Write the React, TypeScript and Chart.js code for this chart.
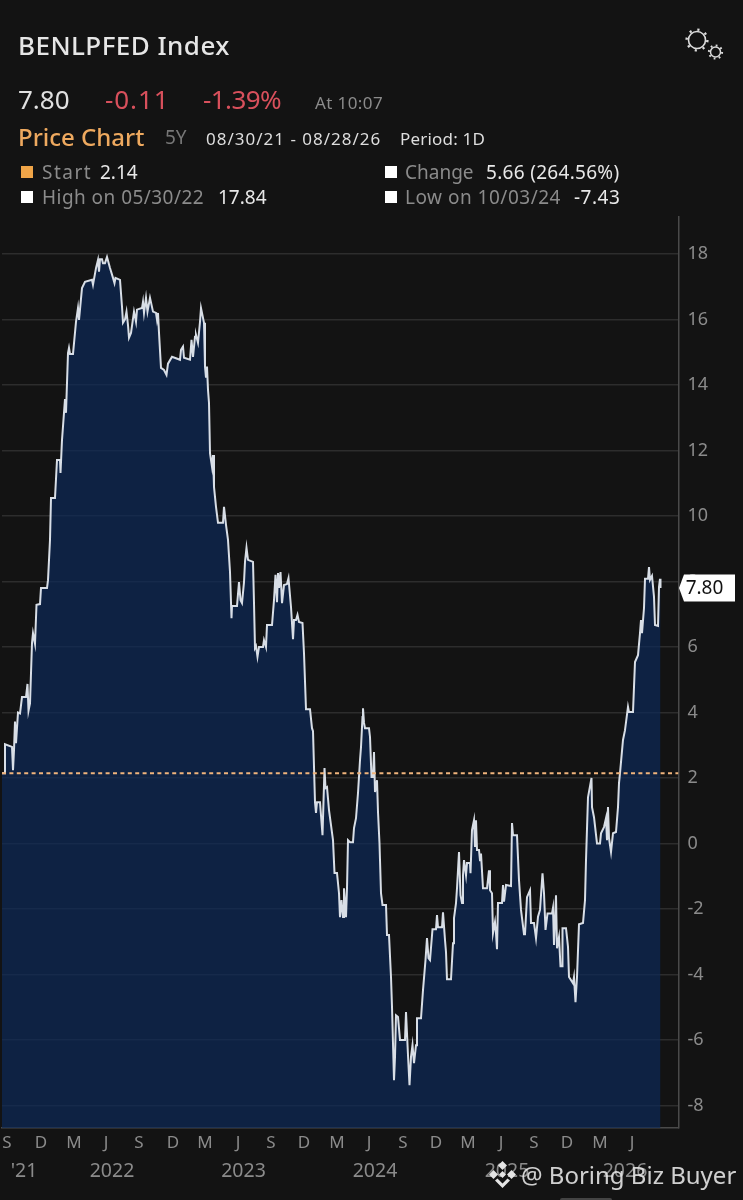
import React, { useEffect, useRef } from "react";
import { Chart, registerables } from "chart.js";

Chart.register(...registerables);

// [trading session since 08/30/21, close]
const closes2021: [number, number][] = [
  [-6, 2.14], [0, 2.14], [0, 3.03], [14, 2.95], [16, 2.24], [18, 2.85], [20, 3.72], [22, 3.06], [26, 4.0], [30, 3.97],
  [34, 4.47], [42, 4.47], [45, 4.87], [47, 4.05], [50, 4.28], [54, 6.12], [56, 6.42], [60, 6.1], [63, 7.29], [70, 7.31],
  [72, 7.8], [84, 7.8], [86, 8.04],
];
const closes2022: [number, number][] = [
  [90, 9.27], [92, 10.55], [100, 10.55], [104, 11.71], [110, 11.71], [111, 11.31], [114, 12.32], [120, 13.57], [122, 13.15],
  [126, 14.97], [128, 15.13], [130, 14.95], [136, 14.95], [142, 15.93], [146, 16.35], [148, 15.99], [154, 16.96], [160, 17.15],
  [174, 17.21], [176, 17.06], [182, 17.57], [186, 17.82], [188, 17.46], [190, 17.84], [194, 17.84], [196, 17.72], [200, 17.72],
  [204, 17.91], [210, 17.57], [216, 17.27], [219, 17.11], [221, 17.27], [230, 17.21], [234, 16.39], [236, 15.9], [240, 16.0],
  [243, 16.24], [246, 15.83], [248, 15.44], [252, 15.59], [258, 16.24], [262, 15.93], [264, 16.3], [274, 16.35], [276, 16.54],
  [278, 16.2], [282, 16.66], [285, 16.24], [290, 16.66], [296, 16.24], [302, 16.2], [304, 15.99], [306, 16.2], [308, 15.59],
  [312, 14.52], [318, 14.46], [323, 14.31], [326, 14.65], [334, 14.86], [350, 14.77],
];
const closes2023: [number, number][] = [
  [352, 15.07], [356, 15.17], [358, 14.83], [370, 14.77], [373, 15.38], [376, 14.86], [380, 15.47], [382, 15.53], [386, 15.29],
  [390, 15.93], [392, 16.35], [398, 15.9], [400, 14.56], [402, 14.22], [404, 14.56], [406, 13.85], [408, 13.45], [410, 11.92],
  [414, 11.5], [416, 11.86], [418, 10.89], [422, 10.28], [426, 9.79], [436, 9.79], [438, 10.28], [442, 9.73], [446, 9.27],
  [450, 8.29], [453, 6.88], [454, 7.25], [464, 7.25], [468, 7.98], [471, 7.43], [474, 7.34], [478, 7.98], [480, 8.6], [483, 9.03],
  [486, 8.66], [496, 8.6], [498, 7.34], [500, 5.97], [502, 6.03], [505, 5.7], [508, 6.0], [516, 6.0], [518, 6.21], [522, 6.0],
  [524, 6.67], [534, 6.67], [538, 7.43], [541, 8.2], [544, 7.37], [546, 8.26], [548, 7.8], [551, 8.29], [554, 7.34], [558, 7.89],
  [564, 7.92], [567, 8.1], [572, 7.22], [576, 6.24], [578, 6.82], [582, 6.82], [585, 6.98], [588, 6.76], [595, 6.73], [598, 5.81],
  [602, 4.1], [610, 4.1],
];
const closes2024: [number, number][] = [
  [614, 3.52], [616, 3.43], [620, 1.26], [622, 0.93], [624, 1.26], [630, 1.26], [635, 0.25], [639, 2.3], [641, 1.69], [644, 1.72],
  [648, 1.02], [656, 0.1], [659, -0.9], [664, -0.9], [668, -1.52], [670, -2.25], [673, -1.73], [676, -2.25], [678, -1.37], [682, -2.25],
  [684, -1.37], [686, 0.1], [690, 0.04], [696, 0.04], [698, 0.47], [702, 0.77], [706, 1.54], [710, 2.54], [712, 2.94], [715, 3.86],
  [716, 4.13], [718, 3.68], [720, 3.52], [728, 3.52], [730, 3.25], [733, 2.03], [736, 2.03], [738, 2.79], [740, 1.57], [744, 1.93],
  [746, 0.96], [749, 0], [752, -1.52], [755, -1.88], [762, -1.88], [764, -2.8], [768, -2.8], [772, -4.08], [774, -4.99], [778, -7.23],
  [780, -6.52], [782, -5.25], [786, -5.3], [790, -6], [800, -6], [802, -5.15], [806, -6.47], [809, -7.38], [812, -6.52], [815, -6.16],
  [818, -6.71], [822, -6.16], [824, -5.34], [832, -5.34], [836, -4.48], [841, -3.56], [844, -2.89], [847, -3.5], [850, -3.56],
  [855, -2.62], [862, -2.62], [864, -2.19], [866, -2.56], [874, -2.56],
];
const closes2025: [number, number][] = [
  [876, -2.1], [880, -2.95], [882, -3.32], [884, -4.15], [892, -4.15], [896, -3.05], [898, -2.28], [902, -1.82], [904, -1.37],
  [908, -0.26], [911, -1.58], [914, -1.82], [916, -0.97], [918, -0.51], [922, -0.97], [924, -0.6], [930, -0.6], [931, -0.91],
  [934, 0.41], [938, 0.71], [940, -0.11], [942, 0.71], [944, -0.2], [948, -0.2], [950, -0.51], [952, -0.31], [956, -1.37], [964, -1.37],
  [968, -0.82], [970, -1.43], [974, -1.52], [976, -2.74], [980, -2.4], [982, -2.74], [984, -3.23], [986, -1.82], [994, -1.82],
  [996, -1.27], [998, -1.78], [1002, -1.27], [1012, -1.3], [1014, 0.62], [1016, 0.25], [1024, 0.25], [1028, -1.12], [1032, -2.03],
  [1038, -2.77], [1040, -2.77], [1044, -1.64], [1050, -1.43], [1052, -2.43], [1058, -2.43], [1062, -2.89], [1066, -2.24], [1070, -2.03],
  [1075, -0.91], [1078, -1.52], [1081, -2.64], [1085, -2.14], [1094, -2.14], [1096, -1.97], [1098, -3.1], [1102, -1.58], [1104, -3.2],
  [1108, -2.86], [1111, -3.75], [1114, -3.75], [1115, -2.59], [1122, -2.59], [1126, -3.16], [1128, -4.08], [1136, -4.27],
];
const closes2026: [number, number][] = [
  [1138, -4.08], [1141, -4.85], [1144, -4.08], [1148, -2.47], [1156, -2.43], [1160, -1.73], [1162, -0.51], [1166, 1.41], [1173, 2.0],
  [1174, 1.11], [1178, 0.8], [1184, 0], [1190, 0], [1192, 0.31], [1198, 0.5], [1202, 0.77], [1204, 0.1], [1206, 1.11], [1208, 0.16],
  [1212, -0.26], [1216, 0.31], [1222, 0.35], [1226, 1.11], [1228, 1.84], [1230, 2.15], [1236, 3.16], [1240, 3.46], [1246, 4.17],
  [1248, 4.01], [1256, 4.01], [1258, 4.78], [1260, 5.54], [1266, 5.75], [1270, 6.42], [1272, 6.82], [1274, 6.42], [1278, 7.19],
  [1280, 8.08], [1286, 8.08], [1288, 8.44], [1290, 8.05], [1294, 8.17], [1298, 7.53], [1300, 6.67], [1306, 6.64], [1308, 7.83],
  [1310, 8.08], [1311, 7.8],
];

const startValue = 2.14;
const lastValue = 7.8;
const yTicks = [-8, -6, -4, -2, 0, 2, 4, 6, 8, 10, 12, 14, 16, 18];
const monthLabels = ["S", "D", "M", "J", "S", "D", "M", "J", "S", "D", "M", "J", "S", "D", "M", "J", "S", "D", "M", "J"];
const monthSessions = [4, 72, 138, 202, 268, 336, 400, 466, 532, 598, 664, 728, 796, 862, 926, 992, 1058, 1124, 1190, 1254];
const yearLabels = ["'21", "2022", "2023", "2024", "2025", "2026"];
const yearSessions = [38, 214, 477, 740, 1004, 1240];

const FONT = '"Noto Sans", sans-serif';
const BG = "#131313";
const GRAY = "#8b8b8b";

const Txt = ({ x, y, size, color, weight, children, spacing }: any) => (
  <div
    style={{
      position: "absolute",
      left: x,
      top: y,
      transform: "translateY(-50%)",
      fontFamily: FONT,
      fontSize: size,
      color,
      fontWeight: weight || 400,
      letterSpacing: spacing || 0,
      whiteSpace: "nowrap",
      lineHeight: 1,
    }}
  >
    {children}
  </div>
);

const Square = ({ x, y, color }: any) => (
  <div style={{ position: "absolute", left: x, top: y, width: 12, height: 12, background: color }} />
);

export default function App() {
  const ref = useRef<HTMLCanvasElement>(null);

  useEffect(() => {
    document.body.style.margin = "0";
    document.body.style.background = BG;
    const points = [...closes2021, ...closes2022, ...closes2023, ...closes2024, ...closes2025, ...closes2026].map(
      ([x, y]) => ({ x, y })
    );
    const xMin = -6;
    const xMax = 1347;

    const flag = {
      id: "lastFlag",
      afterDraw(c: any) {
        const { ctx, scales } = c;
        const y = scales.y.getPixelForValue(lastValue);
        const tip = scales.y.left + 0.5;
        ctx.save();
        ctx.fillStyle = "#ffffff";
        ctx.beginPath();
        ctx.moveTo(tip, y);
        ctx.lineTo(tip + 5, y - 13.5);
        ctx.lineTo(tip + 56, y - 13.5);
        ctx.lineTo(tip + 56, y + 13.5);
        ctx.lineTo(tip + 5, y + 13.5);
        ctx.closePath();
        ctx.fill();
        ctx.fillStyle = "#111111";
        ctx.font = `19px ${FONT}`;
        ctx.textAlign = "center";
        ctx.textBaseline = "middle";
        ctx.fillText(lastValue.toFixed(2), tip + 25.5, y + 0.5);
        ctx.restore();
      },
    };

    const chart = new Chart(ref.current!, {
      type: "line",
      data: {
        datasets: [
          {
            data: [
              { x: xMin, y: startValue },
              { x: xMax, y: startValue },
            ],
            borderColor: "#f0b47c",
            borderWidth: 2,
            borderDash: [4, 3.4],
            pointRadius: 0,
            fill: false,
            order: 0,
          },
          {
            data: points,
            borderColor: "#d8dee6",
            borderWidth: 2,
            backgroundColor: "rgba(13,42,88,0.7)",
            fill: "start",
            tension: 0,
            pointRadius: 0,
            order: 1,
          },
        ],
      },
      options: {
        animation: false,
        responsive: false,
        layout: { padding: { top: 217, left: 2, right: 0, bottom: 0 } },
        plugins: { legend: { display: false }, tooltip: { enabled: false } },
        scales: {
          x: {
            type: "linear",
            position: "bottom",
            weight: 2,
            min: xMin,
            max: xMax,
            grid: { display: false, drawTicks: false },
            border: { display: true, color: "#4a4a4a", width: 1.5 },
            afterBuildTicks(axis: any) {
              axis.ticks = monthSessions.map((value) => ({ value }));
            },
            afterFit(axis: any) {
              axis.height = 32;
              axis.paddingLeft = 0;
              axis.paddingRight = 0;
            },
            ticks: {
              autoSkip: false,
              maxRotation: 0,
              padding: 5,
              color: GRAY,
              font: { family: FONT, size: 17 },
              callback: (_v: any, i: number) => monthLabels[i],
            },
          },
          x2: {
            type: "linear",
            position: "bottom",
            weight: 3,
            min: xMin,
            max: xMax,
            grid: { display: false, drawTicks: false },
            border: { display: false },
            afterBuildTicks(axis: any) {
              axis.ticks = yearSessions.map((value) => ({ value }));
            },
            afterFit(axis: any) {
              axis.height = 40;
              axis.paddingLeft = 0;
              axis.paddingRight = 0;
            },
            ticks: {
              autoSkip: false,
              maxRotation: 0,
              padding: 0,
              color: GRAY,
              font: { family: FONT, size: 19.5 },
              callback: (_v: any, i: number) => yearLabels[i],
            },
          },
          y: {
            type: "linear",
            position: "right",
            min: -8.69,
            max: 19.13,
            grid: { color: "#2d2d2d", lineWidth: 1.5, drawTicks: false },
            border: { display: true, color: "#4a4a4a", width: 1.5 },
            afterBuildTicks(axis: any) {
              axis.ticks = yTicks.map((value) => ({ value }));
            },
            afterFit(axis: any) {
              axis.width = 64.5;
            },
            ticks: {
              padding: 9,
              color: GRAY,
              font: { family: FONT, size: 18 },
              callback: (v: any) => String(v),
            },
          },
        },
      },
      plugins: [flag],
    } as any);
    return () => chart.destroy();
  }, []);

  return (
    <div style={{ position: "relative", width: 743, height: 1200, background: BG, overflow: "hidden" }}>
      <canvas ref={ref} width={743} height={1200} style={{ position: "absolute", left: 0, top: 0, display: "block" }} />

      <Txt x={18} y={45} size={26} color="#e6e6e6" weight={500} spacing={0.45}>BENLPFED Index</Txt>
      <svg style={{ position: "absolute", left: 684, top: 27 }} width={42} height={36} viewBox="0 0 42 36">
        <g fill="none" stroke="#dcdcdc">
          <circle cx={13} cy={13} r={8.5} strokeWidth={1.6} />
          <circle cx={13} cy={13} r={10.4} strokeWidth={2.4} strokeDasharray="2.2 5.97" />
          <circle cx={31.5} cy={25} r={5} strokeWidth={1.5} />
          <circle cx={31.5} cy={25} r={6.6} strokeWidth={2} strokeDasharray="1.8 3.38" />
        </g>
      </svg>

      <Txt x={18} y={99} size={26} color="#e0e0e0">7.80</Txt>
      <Txt x={105} y={99} size={26} color="#d8505c" spacing={0.9}>-0.11</Txt>
      <Txt x={203} y={99} size={26} color="#d8505c" spacing={-0.6}>-1.39%</Txt>
      <Txt x={315} y={102} size={17} color={GRAY} spacing={0.4}>At 10:07</Txt>

      <Txt x={18} y={137} size={24} color="#eea95f" weight={500}>Price Chart</Txt>
      <Txt x={165} y={137} size={19} color="#767676">5Y</Txt>
      <Txt x={206} y={138} size={17} color="#dedede" spacing={1}>08/30/21 - 08/28/26</Txt>
      <Txt x={400} y={138} size={17} color="#dedede" spacing={0.2}>Period: 1D</Txt>

      <Square x={21} y={166} color="#f0a548" />
      <Txt x={42} y={172} size={19} color={GRAY} spacing={1.5}>Start</Txt>
      <Txt x={100} y={172} size={19} color="#e8e8e8">2.14</Txt>
      <Square x={385} y={166} color="#ffffff" />
      <Txt x={405} y={172} size={19} color={GRAY}>Change</Txt>
      <Txt x={486} y={172} size={19} color="#e8e8e8" spacing={0.3}>5.66 (264.56%)</Txt>

      <Square x={21} y={191} color="#ffffff" />
      <Txt x={42} y={197} size={19} color={GRAY} spacing={0.45}>High on 05/30/22</Txt>
      <Txt x={218} y={197} size={19} color="#e8e8e8">17.84</Txt>
      <Square x={385} y={191} color="#ffffff" />
      <Txt x={405} y={197} size={19} color={GRAY} spacing={0.5}>Low on 10/03/24</Txt>
      <Txt x={574} y={197} size={19} color="#e8e8e8" spacing={0.5}>-7.43</Txt>

      <svg style={{ position: "absolute", left: 488, top: 1160 }} width={29} height={29} viewBox="0 0 29 29">
        <g fill="#e4e4e4">
          <path d="M14.5 1 L19 5.5 L14.5 10 L10 5.5 Z" />
          <path d="M5.5 10 L10 14.5 L5.5 19 L1 14.5 Z" />
          <path d="M23.5 10 L28 14.5 L23.5 19 L19 14.5 Z" />
          <path d="M14.5 11 L18 14.5 L14.5 18 L11 14.5 Z" />
          <path d="M14.5 28 L7 20.5 L9.5 18.5 L14.5 23.5 L19.5 18.5 L22 20.5 Z" />
        </g>
      </svg>
      <Txt x={521} y={1175} size={24} color="rgba(235,235,235,0.88)">@ Boring Biz Buyer</Txt>
      <div style={{ position: "absolute", left: 560, top: 1198, width: 52, height: 4, borderRadius: 4, background: "#444" }} />
    </div>
  );
}
